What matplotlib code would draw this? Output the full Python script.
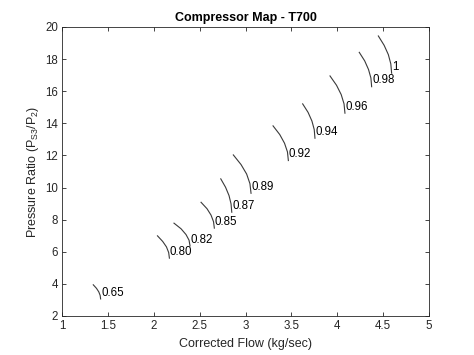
import matplotlib
matplotlib.use("Agg")
import matplotlib.pyplot as plt

plt.rcParams['font.family'] = ['Liberation Sans', 'DejaVu Sans']
plt.rcParams['mathtext.fontset'] = 'custom'
plt.rcParams['mathtext.rm'] = 'Liberation Sans'
plt.rcParams['mathtext.it'] = 'Liberation Sans'

speed_labels = ["0.65", "0.80", "0.82", "0.85", "0.87", "0.89", "0.92", "0.94", "0.96", "0.98", "1"]

flow = [
    [1.34, 1.375, 1.40, 1.415, 1.42],
    [2.04, 2.097, 2.138, 2.162, 2.17],
    [2.22, 2.297, 2.351, 2.384, 2.395],
    [2.515, 2.58, 2.624, 2.651, 2.66],
    [2.73, 2.782, 2.82, 2.842, 2.85],
    [2.867, 2.951, 3.012, 3.048, 3.06],
    [3.30, 3.373, 3.425, 3.457, 3.467],
    [3.623, 3.682, 3.724, 3.749, 3.757],
    [3.921, 3.992, 4.043, 4.074, 4.084],
    [4.24, 4.299, 4.341, 4.367, 4.375],
    [4.448, 4.511, 4.557, 4.584, 4.593],
]
pressure_ratio = [
    [3.94, 3.72, 3.50, 3.28, 3.06],
    [6.99, 6.64, 6.30, 5.95, 5.60],
    [7.78, 7.43, 7.07, 6.72, 6.36],
    [9.08, 8.68, 8.28, 7.87, 7.47],
    [10.54, 10.02, 9.50, 8.98, 8.46],
    [12.03, 11.43, 10.84, 10.24, 9.64],
    [13.84, 13.30, 12.76, 12.22, 11.68],
    [15.21, 14.68, 14.14, 13.61, 13.07],
    [16.95, 16.37, 15.79, 15.21, 14.63],
    [18.42, 17.89, 17.35, 16.82, 16.28],
    [19.44, 18.86, 18.28, 17.70, 17.12],
]

x_ticks = [1, 1.5, 2, 2.5, 3, 3.5, 4, 4.5, 5]
x_ticklabels = ["1", "1.5", "2", "2.5", "3", "3.5", "4", "4.5", "5"]
y_ticks = [2, 4, 6, 8, 10, 12, 14, 16, 18, 20]

fig = plt.figure(figsize=(4.74, 3.55), dpi=100)
ax = fig.add_axes([0.131, 0.110, 0.774, 0.814])

axcol = '#262626'
for xs, ys, lab in zip(flow, pressure_ratio, speed_labels):
    ax.plot(xs, ys, color='#3a3a3a', lw=0.8)
    ax.annotate(lab, xy=(xs[-1], ys[-1]), xytext=(0.3, 4.5), textcoords='offset points',
                ha='left', va='center', fontsize=8.3, color='black')

ax.set_xlim(1, 5)
ax.set_ylim(2, 20)
ax.set_xticks(x_ticks)
ax.set_xticklabels(x_ticklabels)
ax.set_yticks(y_ticks)
ax.tick_params(direction='in', top=True, right=True, length=3, width=0.6,
               labelsize=8.3, colors=axcol, pad=3)
for sp in ax.spines.values():
    sp.set_color(axcol)
    sp.set_linewidth(0.6)

ax.set_title("Compressor Map - T700", fontsize=9, fontweight='bold', pad=4)
ax.set_xlabel("Corrected Flow (kg/sec)", fontsize=9, color=axcol, labelpad=4)
ax.set_ylabel(r"Pressure Ratio (P$_{\mathrm{S3}}$/P$_{\mathrm{2}}$)", fontsize=9, color=axcol, labelpad=3)

fig.savefig("out.png", dpi=100)
